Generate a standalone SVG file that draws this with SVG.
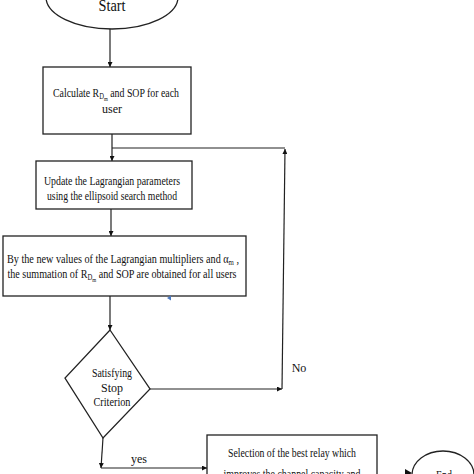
<svg xmlns="http://www.w3.org/2000/svg" width="474" height="474" viewBox="0 0 474 474">
<style>
.shape{fill:#fff;stroke:#222;stroke-width:1.3}
.conn{fill:none;stroke:#222;stroke-width:1.2}
text{font-family:"Liberation Serif","Times New Roman",serif;font-size:12px;fill:#111;text-anchor:middle}
.sub{font-size:8px}
</style>
<defs>
<marker id="ah" viewBox="0 0 10 10" refX="10" refY="5" markerWidth="5" markerHeight="5" orient="auto" markerUnits="userSpaceOnUse">
<path d="M0,0 L10,5 L0,10 z" fill="#111"/>
</marker>
<linearGradient id="thick" x1="0" y1="0" x2="1" y2="0">
<stop offset="0" stop-color="#9a9a9a"/>
<stop offset="1" stop-color="#333"/>
</linearGradient>
</defs>
<rect width="474" height="474" fill="#fff"/>

<g id="connectors">
<line class="conn" x1="110" y1="29" x2="110" y2="67" marker-end="url(#ah)"/>
<line class="conn" x1="112" y1="134" x2="112" y2="161" marker-end="url(#ah)"/>
<polyline class="conn" points="112,148 285,148"/>
<line class="conn" x1="282" y1="389" x2="285" y2="149" marker-end="url(#ah)"/>
<line class="conn" x1="111" y1="209" x2="111" y2="236" marker-end="url(#ah)"/>
<line class="conn" x1="110" y1="296" x2="110" y2="330" marker-end="url(#ah)"/>
<line class="conn" x1="150" y1="389" x2="282" y2="389" marker-end="url(#ah)"/>
<line class="conn" x1="103" y1="438" x2="101" y2="468" marker-end="url(#ah)"/>
<line class="conn" x1="101" y1="468" x2="207" y2="468" marker-end="url(#ah)"/>
<line x1="377" y1="473" x2="407" y2="473" stroke="url(#thick)" stroke-width="4"/>
<path d="M405,469 L412,473 L405,477 z" fill="#111"/>
<text x="139" y="463">yes</text>
<text x="299" y="372">No</text>
</g>

<g id="start">
<ellipse class="shape" cx="112" cy="-3" rx="66" ry="32"/>
<text x="112" y="11" style="font-size:16px" textLength="27" lengthAdjust="spacingAndGlyphs">Start</text>
</g>

<g id="calc">
<rect class="shape" x="43" y="67" width="148" height="67"/>
<text x="116" y="97" textLength="126" lengthAdjust="spacingAndGlyphs">Calculate R<tspan class="sub" dy="2">D</tspan><tspan class="sub" style="font-size:6px" dy="2">m</tspan><tspan dy="-4"> and SOP for each</tspan></text>
<text x="112" y="113">user</text>
</g>

<g id="update">
<rect class="shape" x="36" y="161" width="156" height="48"/>
<text x="112" y="185" textLength="136" lengthAdjust="spacingAndGlyphs">Update the Lagrangian parameters</text>
<text x="112" y="200" textLength="130" lengthAdjust="spacingAndGlyphs">using the ellipsoid search method</text>
</g>

<g id="summation">
<rect class="shape" x="3" y="236" width="243" height="60"/>
<text x="123" y="263" textLength="232" lengthAdjust="spacingAndGlyphs">By the new values of the Lagrangian multipliers and α<tspan class="sub" dy="2">m</tspan><tspan dy="-2"> ,</tspan></text>
<text x="122" y="278" textLength="229" lengthAdjust="spacingAndGlyphs">the summation of R<tspan class="sub" dy="2">D</tspan><tspan class="sub" style="font-size:6px" dy="2">m</tspan><tspan dy="-4"> and SOP are obtained for all users</tspan></text>
<path d="M167,298 L171,295.5 L171,300.5 z" fill="#4a78c0"/>
</g>

<g id="decision">
<polygon class="shape" points="110,330 150,389 103,438 65,378"/>
<text x="112" y="377" textLength="40" lengthAdjust="spacingAndGlyphs">Satisfying</text>
<text x="112" y="392">Stop</text>
<text x="112" y="406" textLength="37" lengthAdjust="spacingAndGlyphs">Criterion</text>
</g>

<g id="selection">
<rect class="shape" x="207" y="435" width="170" height="50"/>
<text x="292" y="457" textLength="128" lengthAdjust="spacingAndGlyphs">Selection of the best relay which</text>
<text x="292" y="478" textLength="137" lengthAdjust="spacingAndGlyphs">improves the channel capacity and</text>
</g>

<g id="end">
<ellipse class="shape" cx="443" cy="475" rx="31" ry="24"/>
<text x="444" y="479" textLength="16" lengthAdjust="spacingAndGlyphs">End</text>
</g>
</svg>
